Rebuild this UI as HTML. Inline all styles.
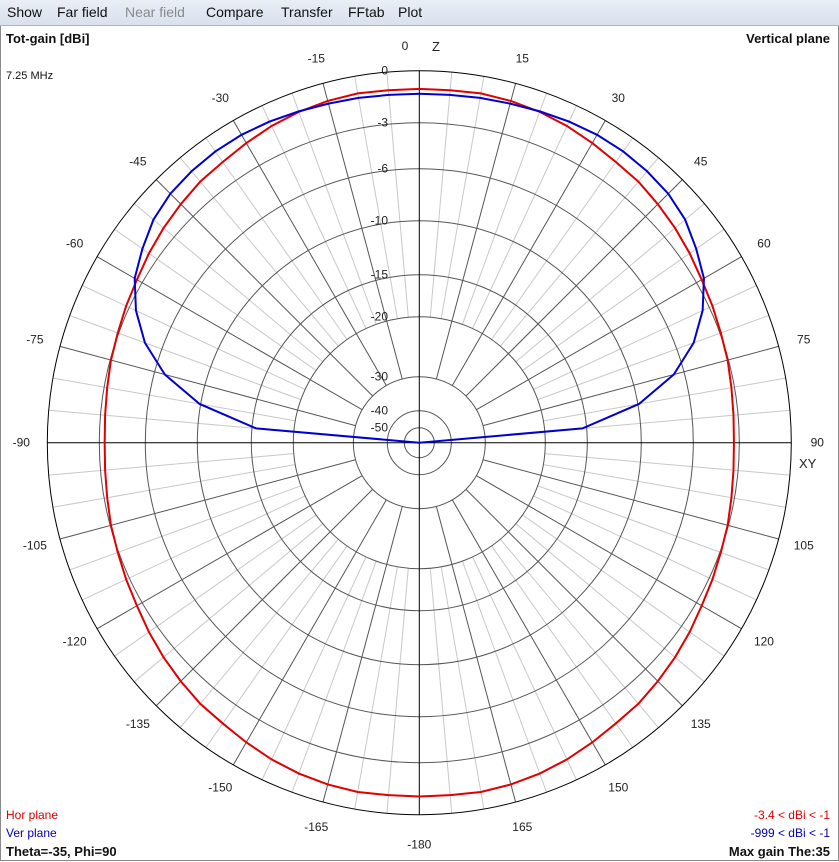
<!DOCTYPE html>
<html><head><meta charset="utf-8"><style>
html,body{margin:0;padding:0;width:839px;height:862px;overflow:hidden;background:#fff;font-family:"Liberation Sans",sans-serif}
#menu{position:absolute;left:0;top:0;width:839px;height:25px;background:linear-gradient(#e9eef6,#d9e1ee);border-bottom:1px solid #a9b6c8}
#menu span{position:absolute;top:4px;font-size:14px;color:#111}
#frame{position:absolute;left:0;top:26px;width:837px;height:834px;border:1px solid #8a8a8a;border-top:none}
svg{position:absolute;left:0;top:0}
</style></head><body>
<div id="menu">
<span style="left:7px">Show</span>
<span style="left:57px">Far field</span>
<span style="left:125px;color:#8a8a8a">Near field</span>
<span style="left:206px">Compare</span>
<span style="left:281px">Transfer</span>
<span style="left:348px">FFtab</span>
<span style="left:398px">Plot</span>
</div>
<div id="frame"></div>
<svg id="chart" width="839" height="862"></svg>
<script>
const ringDb=[0,-3,-6,-10,-15,-20,-30,-40,-50];
const ringR=[372,320,274,222,168,126,66,32,15];
const angleTicks=[0,15,30,45,60,75,90,105,120,135,150,165,-180,-165,-150,-135,-120,-105,-90,-75,-60,-45,-30,-15];
const redTheta=[0,5,10,15,20,25,30,35,40,45,50,55,60,65,70,75,80,85,90,95,100,105,110,115,120,125,130,135,140,145,150,155,160,165,170,175,180];
const redDb=[-1.05,-1.05,-1.0,-1.05,-1.15,-1.3,-1.5,-1.69,-1.8,-2.0,-2.2,-2.42,-2.65,-2.8,-2.95,-3.05,-3.2,-3.3,-3.35,-3.3,-3.2,-3.05,-2.95,-2.8,-2.65,-2.42,-2.2,-2.0,-1.8,-1.69,-1.5,-1.3,-1.15,-1.05,-1.0,-1.05,-1.05];
const blueTheta=[0,5,10,15,20,25,30,35,40,45,50,55,60,65,70,75,80,85,90];
const blueDb=[-1.33,-1.32,-1.26,-1.21,-1.12,-1.02,-0.95,-0.95,-1.02,-1.15,-1.44,-1.96,-2.5,-3.48,-4.83,-6.81,-9.92,-15.5,-999];
const cx=419.3,cy=442.7,R=372;
const NS='http://www.w3.org/2000/svg';
const svg=document.getElementById('chart');
function rOf(db){
 if(db>=0) return R;
 for(let i=0;i<ringDb.length-1;i++){
  if(db<=ringDb[i]&&db>=ringDb[i+1]){const t=(ringDb[i]-db)/(ringDb[i]-ringDb[i+1]);return ringR[i]+(ringR[i+1]-ringR[i])*t;}
 }
 const last=ringR[ringR.length-1];const t=Math.min(1,(-50-db)/10);return last*(1-t);
}
function px(th,r){const a=th*Math.PI/180;return [cx+r*Math.sin(a),cy-r*Math.cos(a)];}
function mk(tag,attrs){const e=document.createElementNS(NS,tag);for(const k in attrs)e.setAttribute(k,attrs[k]);svg.appendChild(e);return e;}
for(let a=0;a<360;a+=5){if(a%15===0)continue;
 const p1=px(a,126),p2=px(a,R);
 const l=mk('line',{x1:p1[0],y1:p1[1],x2:p2[0],y2:p2[1],stroke:'#c8c8c8','stroke-width':1});
 
 
}
for(let a=0;a<360;a+=15){if(a%90===0)continue;
 const p1=px(a,66),p2=px(a,R);
 const l=mk('line',{x1:p1[0],y1:p1[1],x2:p2[0],y2:p2[1],stroke:'#555','stroke-width':1});
 
 
}
ringDb.forEach((d,i)=>{
 const c=mk('circle',{cx:cx,cy:cy,r:rOf(d),fill:'none',stroke:i===0?'#000':'#555','stroke-width':1});
 
 
 const t=mk('text',{x:388,y:cy-rOf(d)+4,'text-anchor':'end','font-size':12,fill:'#222'});
 t.textContent=String(d);
 
 
});
let ax=mk('line',{x1:cx-R,y1:cy,x2:cx+R,y2:cy,stroke:'#000','stroke-width':1});


ax=mk('line',{x1:cx,y1:cy-R,x2:cx,y2:cy+R,stroke:'#000','stroke-width':1});


angleTicks.forEach(a=>{
 const p=px(a,398);
 let x=p[0],y=p[1]+4;
 if(a===0){x=405;y=50;}
 if(a===-180){y=p[1]+8;}
 const t=mk('text',{x:x,y:y,'text-anchor':'middle','font-size':12,fill:'#222'});
 t.textContent=String(a);
 
 
});
let z=mk('text',{x:432,y:51,'font-size':13,fill:'#222'});z.textContent='Z';


z=mk('text',{x:799,y:468,'font-size':13,fill:'#222'});z.textContent='XY';


let pts=[];
redTheta.forEach((t,i)=>{pts.push(px(t,rOf(redDb[i])));});
for(let i=redTheta.length-2;i>=1;i--){pts.push(px(-redTheta[i],rOf(redDb[i])));}
let pl=mk('polygon',{points:pts.map(p=>p.join(',')).join(' '),fill:'none',stroke:'#e00000','stroke-width':2});


pts=[];
for(let i=blueTheta.length-1;i>=1;i--){pts.push(px(-blueTheta[i],rOf(blueDb[i])));}
blueTheta.forEach((t,i)=>{pts.push(px(t,rOf(blueDb[i])));});
pl=mk('polyline',{points:pts.map(p=>p.join(',')).join(' '),fill:'none',stroke:'#0000d0','stroke-width':2});


function txt(x,y,s,opt,name){const t=mk('text',Object.assign({x:x,y:y,'font-size':13,fill:'#111'},opt));t.textContent=s;}
txt(6,43,'Tot-gain [dBi]',{'font-weight':'bold'},'chart-title');
txt(830,43,'Vertical plane',{'font-weight':'bold','text-anchor':'end'},'plane-title');
txt(6,79,'7.25 MHz',{'font-size':11},'frequency-label');
txt(6,819,'Hor plane',{fill:'#e00000','font-size':12},'legend-hor-plane');
txt(6,837,'Ver plane',{fill:'#0000b0','font-size':12},'legend-ver-plane');
txt(6,856,'Theta=-35, Phi=90',{'font-weight':'bold'},'cursor-info');
txt(830,819,'-3.4 < dBi < -1',{fill:'#e00000','font-size':12,'text-anchor':'end'},'hor-range');
txt(830,837,'-999 < dBi < -1',{fill:'#0000b0','font-size':12,'text-anchor':'end'},'ver-range');
txt(830,856,'Max gain The:35',{'font-weight':'bold','text-anchor':'end'},'max-gain');
</script>
</body></html>
